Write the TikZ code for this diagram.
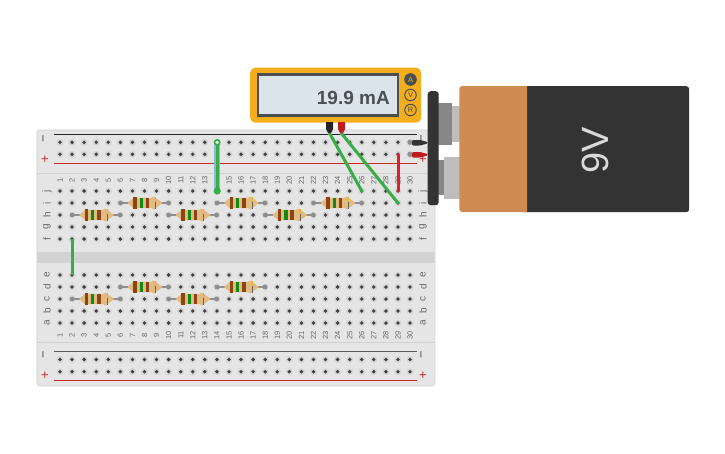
\documentclass[tikz,border=0pt]{standalone}
\usepackage{fontspec}
\setmainfont{Liberation Sans}
\definecolor{board}{HTML}{E5E5E5}
\definecolor{boardline}{HTML}{D2D2D2}
\definecolor{channel}{HTML}{D2D2D2}
\definecolor{holeouter}{HTML}{D6D6D6}
\definecolor{holeinner}{HTML}{404040}
\definecolor{mporange}{HTML}{F5AE1B}
\definecolor{screen}{HTML}{DBE4EA}
\definecolor{screenedge}{HTML}{4A4F54}
\definecolor{batorange}{HTML}{D08C50}
\definecolor{batdark}{HTML}{333333}
\definecolor{wiregreen}{HTML}{36AE47}
\definecolor{wirehalo}{HTML}{8DB8DC}
\definecolor{wirered}{HTML}{DE2126}
\definecolor{railred}{HTML}{C92A2A}
\definecolor{resbody}{HTML}{E2BB82}
\definecolor{lead}{HTML}{8E8E8E}
\definecolor{bandbrown}{HTML}{8B4513}
\definecolor{bandgreen}{HTML}{0E8A16}
\definecolor{bandgold}{HTML}{D9B52C}
\tikzset{
 x=1pt,y=-1pt,
 hole/.pic={\fill[holeouter] (0,0) circle (3.5);\fill[holeinner] (0,0) circle (1.9);},
 boardlabel/.style={font=\fontsize{7.5}{7.5}\selectfont,text=black!60,rotate=90,inner sep=0},
 letterlabel/.style={font=\fontsize{10}{10}\selectfont,text=black!60,rotate=90,inner sep=0},
 signlabel/.style={font=\fontsize{13}{13}\selectfont,inner sep=0},
 wiregreenline/.style={draw=wiregreen,line width=3pt,line cap=round},
 wireredline/.style={draw=wirered,line width=3pt,line cap=round},
 dial/.style={circle,draw=screenedge,line width=1pt,minimum size=11.5pt,inner sep=0,
   font=\fontsize{7.5}{7.5}\selectfont,text=screenedge},
 resistorpic/.pic={
   \draw[lead,line width=1.8pt,line cap=round] (-24,0) -- (24,0);
   \fill[lead] (-24,0) circle (2.4); \fill[lead] (24,0) circle (2.4);
   \fill[resbody] (-17,0) -- (-12,-4.5) to[out=-20,in=180] (-10,-6.5) -- (-8,-5.2) -- (7,-5.2) -- (9.5,-6.5) to[out=0,in=160] (12,-4.5) -- (18,0)
     -- (12,4.5) to[out=200,in=0] (9.5,6.5) -- (7,5.2) -- (-8,5.2) -- (-10,6.5) to[out=180,in=20] (-12,4.5) -- cycle;
   \fill[bandbrown] (-11.5,-6.3) rectangle (-8,6.3);
   \fill[bandgreen] (-5,-5.2) rectangle (-1.8,5.2);
   \fill[bandbrown] (1,-5.2) rectangle (4.5,5.2);
   \fill[bandgold] (10.5,-6.3) rectangle (11.5,-1);
   \fill[black!60] (10.5,-1) rectangle (11.5,6.3);
 }
}
\begin{document}
\begin{tikzpicture}
\useasboundingbox (0,0) rectangle (725,453);
\fill[white] (0,0) rectangle (725,453);
% breadboard
\node[draw=boardline,fill=board,rounded corners=3pt,minimum width=398pt,minimum height=256pt,inner sep=0,anchor=north west,line width=.8pt] (bb) at (36.5,129.5) {};
\fill[channel] (37,252) rectangle (435,263);
\draw[boardline,line width=.8pt] (37,173) -- (435,173) (37,342) -- (435,342);
\coordinate (tl1) at (54,134.5); \coordinate (tl2) at (417,134.5);
\coordinate (tr1) at (54,163.5); \coordinate (tr2) at (417,163.5);
\coordinate (bl1) at (54,351.5); \coordinate (bl2) at (417,351.5);
\coordinate (br1) at (54,380.5); \coordinate (br2) at (417,380.5);
\draw[black!85,line width=1.2pt] (tl1) -- (tl2);
\draw[railred,line width=1.2pt] (tr1) -- (tr2);
\draw[black!65,line width=1.2pt] (bl1) -- (bl2);
\draw[railred,line width=1.2pt] (br1) -- (br2);
% signs
\node[signlabel,text=black!70,rotate=90] (s1) at (45,139) {−};
\node[signlabel,text=railred] (s2) at (45,160) {+};
\node[signlabel,text=railred] (s3) at (423,160) {+};
\node[signlabel,text=black!70,rotate=90] (s8) at (423,139) {−};
\node[signlabel,text=black!70,rotate=90] (s4) at (45,355) {−};
\node[signlabel,text=railred] (s5) at (45,376) {+};
\node[signlabel,text=black!70,rotate=90] (s6) at (423,355) {−};
\node[signlabel,text=railred] (s7) at (423,376) {+};
% holes
\foreach \c in {0,...,29}{
  \pgfmathsetmacro{\hx}{60+12.07*\c}
  \foreach \hy in {142.3,154.3,191,203,215,227,239,275,287,299,311,323,359.5,371.7}{ \pic at (\hx,\hy) {hole}; }
  \pgfmathtruncatemacro{\num}{\c+1}
  \node[boardlabel] (nt\num) at (\hx,180) {\num};
  \node[boardlabel] (nb\num) at (\hx,335) {\num};
}
\foreach \l/\y in {j/191,i/203,h/215,g/227,f/239,e/275,d/287,c/299,b/311,a/323}{
  \node[letterlabel] (ll\l) at (47,\y) {\l};
  \node[letterlabel] (lr\l) at (423,\y) {\l};
}
% resistors
\foreach \x/\y in {96.2/215,144.5/203,192.7/215,241/203,289.3/215,337.6/203,144.5/287,241/287,96.2/299,192.7/299}{
  \pic at (\x,\y) {resistorpic};
}
% multimeter
\node[fill=mporange,rounded corners=5pt,minimum width=171pt,minimum height=55pt,inner sep=0,anchor=north west] (meter) at (250,67.5) {};
\node[draw=screenedge,fill=screen,line width=2.4pt,minimum width=140.5pt,minimum height=41pt,inner sep=0] (disp) at (328,95) {};
\node[font=\bfseries\fontsize{19}{19}\selectfont,text=screenedge,anchor=east,inner sep=0] (reading) at (390,97.5) {19.9 mA};
\node[dial,fill=screenedge,text=mporange] (da) at (410.5,79.5) {A};
\node[dial] (dv) at (410.5,95) {V};
\node[dial] (dr) at (410.5,110) {R};
% probes
\fill[black!85] (326,122) -- (333,122) -- (333,129) -- (331,133) -- (328,133) -- (326,129) -- cycle;
\fill[wirered!85!black] (338,122) -- (345,122) -- (345,129) -- (343,133) -- (340,133) -- (338,129) -- cycle;
\fill[lead] (328,133) rectangle (331,135);
\fill[lead] (340,133) rectangle (343,135);
\coordinate (pb) at (330,134);
\coordinate (pr) at (342,134);
\coordinate (h26j) at (361.8,191);
\coordinate (h29i) at (398,203);
\draw[wiregreenline] (pb) -- (h26j);
\draw[wiregreenline] (pr) -- (h29i);
\coordinate (h29top) at (398,154.3); \coordinate (h29j) at (398,191);
\draw[wireredline] (h29top) -- (h29j);
\coordinate (h14top) at (217.2,142.3); \coordinate (h14j) at (217.2,191);
\draw[draw=wirehalo,line width=5.5pt] (h14top) -- (h14j);
\draw[wiregreenline] (h14top) -- (h14j);
\fill[wiregreen] (h14j) circle (3.6);
\fill[wiregreen] (h14top) circle (3.4);
\fill[white!90!gray] (h14top) circle (1.8);
\coordinate (h2f) at (72.1,239); \coordinate (h2e) at (72.1,275);
\draw[wiregreenline,line cap=butt] (h2f) -- (h2e);
% battery
\fill[black!47] (438,103) rectangle (452,145);
\fill[black!26] (452,106) rectangle (461,142);
\fill[black!47] (438,160) rectangle (444,195);
\fill[black!26] (444,157) rectangle (461,199);
\node[fill=batdark,rounded corners=3pt,minimum width=169pt,minimum height=126pt,inner sep=0,anchor=north west] (bat) at (520,86) {};
\fill[batorange,rounded corners=3pt] (527,86) -- (459.3,86) -- (459.3,212) [sharp corners] -- (527,212) -- cycle;
\node[font=\fontsize{38}{38}\selectfont,text=black!15,rotate=90,inner sep=0] (nine) at (595,150) {9V};
% snap connector
\node[fill=batdark,rounded corners=3pt,minimum width=11pt,minimum height=114pt,inner sep=0,anchor=north west] (snap) at (427.5,91) {};
\coordinate (lb) at (410,142.3); \coordinate (lr) at (410,154.3);
\fill[lead] (lb) circle (2.6);\fill[lead] (lr) circle (2.6);
\fill[black!80,rounded corners=1pt] (412,140) -- (420,140) -- (snap.west |- 0,142) -- (snap.west |- 0,143.5) -- (420,145.5) -- (412,145.5) -- cycle;
\fill[wirered!85!black,rounded corners=1pt] (412,152) -- (420,152) -- (snap.west |- 0,154) -- (snap.west |- 0,155.5) -- (420,157.5) -- (412,157.5) -- cycle;
\end{tikzpicture}
\end{document}
